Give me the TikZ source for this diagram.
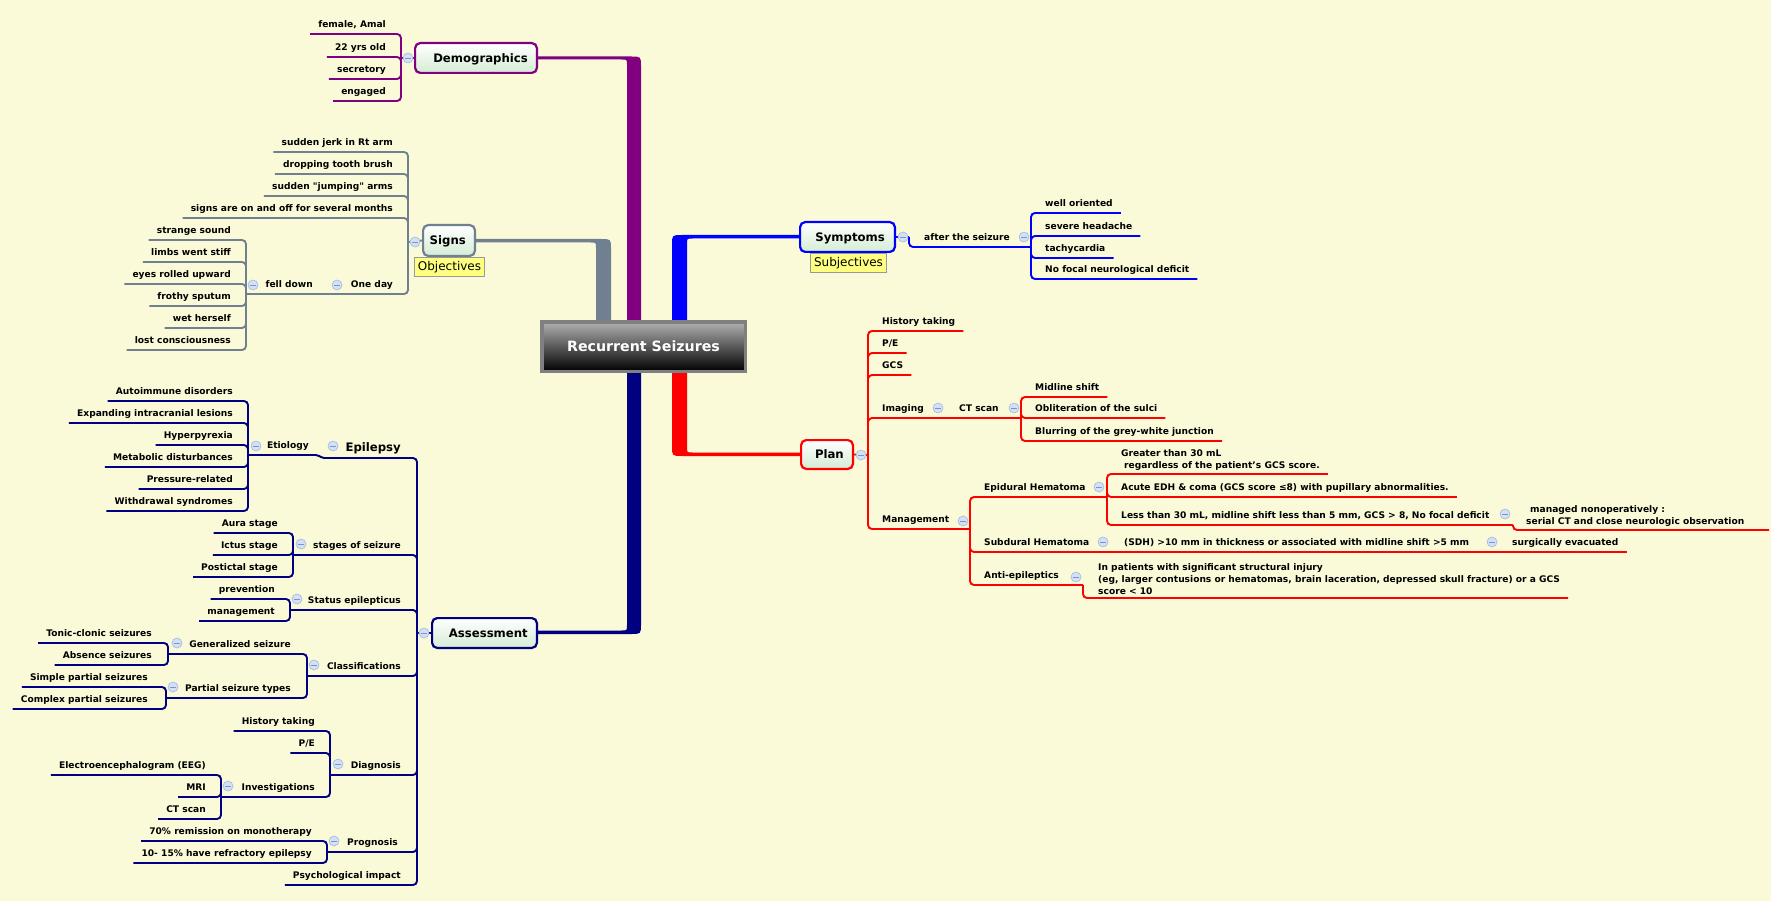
\documentclass[tikz,border=0pt]{standalone}
\usepackage{fontspec}
\newfontfamily\djv{DejaVu Sans}
\definecolor{bg}{RGB}{250,250,216}
\definecolor{cPur}{RGB}{128,0,128}
\definecolor{cGry}{RGB}{112,128,144}
\definecolor{cBlu}{RGB}{0,0,255}
\definecolor{cRed}{RGB}{255,0,0}
\definecolor{cNav}{RGB}{0,0,128}
\definecolor{colF}{RGB}{212,225,245}
\definecolor{colB}{RGB}{160,184,228}
\definecolor{colD}{RGB}{120,150,205}
\definecolor{tGreen}{RGB}{212,236,212}
\definecolor{noteY}{RGB}{255,255,128}
\definecolor{rootTop}{RGB}{178,178,178}
\begin{document}
\begin{tikzpicture}[x=1pt,y=-1pt,
  lf/.style={font=\djv\bfseries\fontsize{9.1}{11.5}\selectfont, inner xsep=8pt, inner ysep=3.5pt, text height=7pt, text depth=2.5pt},
  lfm/.style={font=\djv\bfseries\fontsize{9.1}{12}\selectfont, inner xsep=8pt, inner ysep=3.5pt, align=left},
  L/.style={lf, anchor=south east},
  R/.style={lf, anchor=south west},
  LB/.style={font=\djv\bfseries\fontsize{11.7}{13}\selectfont, inner xsep=8pt, inner ysep=3.5pt, text height=9pt, text depth=3pt, anchor=south east},
  ln/.style={line width=1.9pt, rounded corners=4pt},
  topic/.style={draw=#1, line width=2.2pt, rounded corners=5pt, top color=white, bottom color=tGreen, inner sep=0pt},
  toptxt/.style={font=\djv\bfseries\fontsize{11.7}{13}\selectfont, inner sep=0pt, anchor=base east},
  rootbox/.style={draw=gray, line width=3.5pt, top color=rootTop, bottom color=black, text=white, font=\djv\bfseries\fontsize{14.2}{16}\selectfont, minimum width=203.5pt, minimum height=49.5pt, inner sep=0pt},
  col/.style={circle, draw=colB, fill=colF, line width=0.6pt, minimum size=10pt, inner sep=0pt, path picture={\draw[colD, line width=0.9pt] ([xshift=-2.6pt]path picture bounding box.center) -- ([xshift=2.6pt]path picture bounding box.center);}},
  note/.style={draw=gray!80, fill=noteY, line width=0.8pt, font=\djv\fontsize{12}{14}\selectfont, inner sep=0pt, text height=9pt, text depth=2.5pt, minimum height=19pt},
]
\fill[bg] (0,0) rectangle (1771,901);
\useasboundingbox (0,0) rectangle (1771,901);

% ---------- thick main branches ----------
\fill[cPur] (538,56.5) -- (631,56.5) .. controls (641,56.5) .. (641,66.5) -- (641,325) -- (627,325) -- (627,65) .. controls (627,59.5) .. (621.5,59.5) -- (538,59.5) -- cycle;
\fill[cGry] (476,239) -- (601,239) .. controls (611,239) .. (611,249) -- (611,325) -- (596,325) -- (596,248) .. controls (596,242.5) .. (590.5,242.5) -- (476,242.5) -- cycle;
\fill[cBlu] (800,235) -- (682,235) .. controls (672,235) .. (672,245) -- (672,325) -- (687,325) -- (687,244) .. controls (687,238.5) .. (692.5,238.5) -- (800,238.5) -- cycle;
\fill[cRed] (800,456) -- (682,456) .. controls (672,456) .. (672,446) -- (672,368) -- (687,368) -- (687,447) .. controls (687,452.5) .. (692.5,452.5) -- (800,452.5) -- cycle;
\fill[cNav] (538,634) -- (631,634) .. controls (641,634) .. (641,624) -- (641,368) -- (627,368) -- (627,625) .. controls (627,630.5) .. (621.5,630.5) -- (538,630.5) -- cycle;

% ---------- root ----------
\node[rootbox] (root) at (643.5,346.5) {Recurrent Seizures};

% ---------- main topics ----------
\node[topic=cPur, minimum width=121.8pt, minimum height=29.8pt] (demo) at (476,58) {};
\node[toptxt] (demoT) at ([xshift=-10pt,yshift=-4.2pt]demo.east) {Demographics};
\node[topic=cGry, minimum width=51.8pt, minimum height=30.8pt] (signs) at (449,240.5) {};
\node[toptxt] (signsT) at ([xshift=-10pt,yshift=-4.2pt]signs.east) {Signs};
\node[note, minimum width=70pt] (obj) at (449.5,267) {Objectives};
\node[topic=cBlu, minimum width=94.8pt, minimum height=29.8pt] (symp) at (847.5,237) {};
\node[toptxt] (sympT) at ([xshift=-11pt,yshift=-4.2pt]symp.east) {Symptoms};
\node[note, minimum width=76pt] (subj) at (848.5,263) {Subjectives};
\node[topic=cRed, minimum width=51.8pt, minimum height=28.8pt] (plan) at (827,454.5) {};
\node[toptxt] (planT) at ([xshift=-10pt,yshift=-4.2pt]plan.east) {Plan};
\node[topic=cNav, minimum width=104.8pt, minimum height=29.8pt] (asm) at (484.5,633) {};
\node[toptxt] (asmT) at ([xshift=-10pt,yshift=-4.2pt]asm.east) {Assessment};

% ---------- junction coordinates ----------
\coordinate (dJ) at (401,58);
\coordinate (sJ) at (408,242);
\coordinate (odJ) at (330,294);
\coordinate (fdJ) at (246,294);
\coordinate (syJ) at (909,237);
\coordinate (aftJ) at (1031,247);
\coordinate (pJ) at (868,455);
\coordinate (imJ) at (945,418);
\coordinate (ctJ) at (1021,418);
\coordinate (mgJ) at (970,529);
\coordinate (epdJ) at (1107,497);
\coordinate (ltJ) at (1513,525);
\coordinate (mnE) at (1769,530);
\coordinate (sdJ) at (1110,552);
\coordinate (sdhJ) at (1500,552);
\coordinate (aeJ) at (1083,585);
\coordinate (aJ) at (417,633);
\coordinate (epJ) at (325,458);
\coordinate (etJ) at (248,455);
\coordinate (stJ) at (293,555);
\coordinate (seJ) at (290,610);
\coordinate (clJ) at (307,676);
\coordinate (gsJ) at (168,654);
\coordinate (psJ) at (166,698);
\coordinate (dgJ) at (330,775);
\coordinate (invJ) at (221,797);
\coordinate (prJ) at (327,852);

% ---------- Demographics ----------
\node[L] (d1) at (394,34) {female, Amal};
\node[L] (d2) at (394,57) {22 yrs old};
\node[L] (d3) at (394,79) {secretory};
\node[L] (d4) at (394,101) {engaged};
\draw[ln,cPur] (demo.west) -- (dJ);
\foreach \n in {d1,d2,d3,d4} \draw[ln,cPur] (dJ) |- (\n.south west);

% ---------- Signs ----------
\node[L] (s1) at (401,152) {sudden jerk in Rt arm};
\node[L] (s2) at (401,174) {dropping tooth brush};
\node[L] (s3) at (401,196) {sudden "jumping" arms};
\node[L] (s4) at (401,218) {signs are on and off for several months};
\node[L] (od) at (401,294) {One day};
\node[L] (fd) at (321,294) {fell down};
\node[L] (f1) at (239,240) {strange sound};
\node[L] (f2) at (239,262) {limbs went stiff};
\node[L] (f3) at (239,284) {eyes rolled upward};
\node[L] (f4) at (239,306) {frothy sputum};
\node[L] (f5) at (239,328) {wet herself};
\node[L] (f6) at (239,350) {lost consciousness};
\draw[ln,cGry] (signs.west) -- (sJ);
\foreach \n in {s1,s2,s3,s4} \draw[ln,cGry] (sJ) |- (\n.south west);
\draw[ln,cGry] (sJ) |- (odJ);
\draw[ln,cGry] (odJ) -- (fdJ);
\foreach \n in {f1,f2,f3,f4,f5,f6} \draw[ln,cGry] (fdJ) |- (\n.south west);

% ---------- Symptoms ----------
\node[R] (aft) at (916,247) {after the seizure};
\node[R] (y1) at (1037,213) {well oriented};
\node[R] (y2) at (1037,236) {severe headache};
\node[R] (y3) at (1037,258) {tachycardia};
\node[R] (y4) at (1037,279) {No focal neurological deficit};
\draw[ln,cBlu] (symp.east) -- (syJ);
\draw[ln,cBlu] (syJ) |- (aftJ);
\foreach \n in {y1,y2,y3,y4} \draw[ln,cBlu] (aftJ) |- (\n.south east);

% ---------- Plan ----------
\node[R] (p1) at (874,331) {History taking};
\node[R] (p2) at (874,353) {P/E};
\node[R] (p3) at (874,375) {GCS};
\node[R] (im) at (874,418) {Imaging};
\node[R] (ct) at (951,418) {CT scan};
\node[R] (c1) at (1027,397) {Midline shift};
\node[R] (c2) at (1027,418) {Obliteration of the sulci};
\node[R] (c3) at (1027,441) {Blurring of the grey-white junction};
\node[R] (mg) at (874,529) {Management};
\node[R] (epd) at (976,497) {Epidural Hematoma};
\node[lfm, anchor=south west] (e1) at (1113,474) {Greater than 30 mL\\\hspace*{3pt}regardless of the patient’s GCS score.};
\node[R] (e2) at (1113,497) {Acute EDH \& coma (GCS score ≤8) with pupillary abnormalities.};
\node[R] (e3) at (1113,525) {Less than 30 mL, midline shift less than 5 mm, GCS > 8, No focal deficit};
\node[lfm, anchor=south west] (mn) at (1518,530) {\hspace*{4pt}managed nonoperatively :\\serial CT and close neurologic observation};
\node[R] (sd) at (976,552) {Subdural Hematoma};
\node[R] (sdh) at (1116,552) {(SDH) >10 mm in thickness or associated with midline shift >5 mm};
\node[R] (surg) at (1504,552) {surgically evacuated};
\node[R] (ae) at (976,585) {Anti-epileptics};
\node[lfm, anchor=south west] (inp) at (1090,598) {In patients with significant structural injury\\(eg, larger contusions or hematomas, brain laceration, depressed skull fracture) or a GCS\\score < 10};
\draw[ln,cRed] (plan.east) -- (pJ);
\foreach \n in {p1,p2,p3} \draw[ln,cRed] (pJ) |- (\n.south east);
\draw[ln,cRed] (pJ) |- (imJ);
\draw[ln,cRed] (imJ) -- (ctJ);
\foreach \n in {c1,c2,c3} \draw[ln,cRed] (ctJ) |- (\n.south east);
\draw[ln,cRed] (pJ) |- (mgJ);
\draw[ln,cRed] (mgJ) |- (epdJ);
\foreach \n in {e1,e2} \draw[ln,cRed] (epdJ) |- (\n.south east);
\draw[ln,cRed] (epdJ) |- (ltJ);
\draw[ln,cRed] (ltJ) |- (mnE);
\draw[ln,cRed] (mgJ) |- (sdJ);
\draw[ln,cRed] (sdJ) -- (sdhJ);
\draw[ln,cRed] (sdhJ) -- (surg.south east);
\draw[ln,cRed] (mgJ) |- (aeJ);
\draw[ln,cRed] (aeJ) |- (inp.south east);

% ---------- Assessment ----------
\node[LB] (epi) at (409,458) {Epilepsy};
\node[L] (et) at (317,455) {Etiology};
\node[L] (t1) at (241,401) {Autoimmune disorders};
\node[L] (t2) at (241,423) {Expanding intracranial lesions};
\node[L] (t3) at (241,445) {Hyperpyrexia};
\node[L] (t4) at (241,467) {Metabolic disturbances};
\node[L] (t5) at (241,489) {Pressure-related};
\node[L] (t6) at (241,511) {Withdrawal syndromes};
\node[L] (st) at (409,555) {stages of seizure};
\node[L] (st1) at (286,533) {Aura stage};
\node[L] (st2) at (286,555) {Ictus stage};
\node[L] (st3) at (286,577) {Postictal stage};
\node[L] (se) at (409,610) {Status epilepticus};
\node[L] (se1) at (283,599) {prevention};
\node[L] (se2) at (283,621) {management};
\node[L] (cl) at (409,676) {Classifications};
\node[L] (gs) at (299,654) {Generalized seizure};
\node[L] (g1) at (160,643) {Tonic-clonic seizures};
\node[L] (g2) at (160,665) {Absence seizures};
\node[L] (ps) at (299,698) {Partial seizure types};
\node[L] (q1) at (156,687) {Simple partial seizures};
\node[L] (q2) at (156,709) {Complex partial seizures};
\node[L] (dg) at (409,775) {Diagnosis};
\node[L] (dg1) at (323,731) {History taking};
\node[L] (dg2) at (323,753) {P/E};
\node[L] (inv) at (323,797) {Investigations};
\node[L] (i1) at (214,775) {Electroencephalogram (EEG)};
\node[L] (i2) at (214,797) {MRI};
\node[L] (i3) at (214,819) {CT scan};
\node[L] (pr) at (406,852) {Prognosis};
\node[L] (r1) at (320,841) {70\% remission on monotherapy};
\node[L] (r2) at (320,863) {10- 15\% have refractory epilepsy};
\node[L] (psy) at (409,885) {Psychological impact};
\draw[ln,cNav] (asm.west) -- (aJ);
\draw[ln,cNav] (aJ) |- (epJ);
\draw[ln,cNav,rounded corners=2pt] (epJ) -- (322,458) -- (318,455) -- (etJ);
\foreach \n in {t1,t2,t3,t4,t5,t6} \draw[ln,cNav] (etJ) |- (\n.south west);
\draw[ln,cNav] (aJ) |- (stJ);
\foreach \n in {st1,st2,st3} \draw[ln,cNav] (stJ) |- (\n.south west);
\draw[ln,cNav] (aJ) |- (seJ);
\foreach \n in {se1,se2} \draw[ln,cNav] (seJ) |- (\n.south west);
\draw[ln,cNav] (aJ) |- (clJ);
\draw[ln,cNav] (clJ) |- (gsJ);
\foreach \n in {g1,g2} \draw[ln,cNav] (gsJ) |- (\n.south west);
\draw[ln,cNav] (clJ) |- (psJ);
\foreach \n in {q1,q2} \draw[ln,cNav] (psJ) |- (\n.south west);
\draw[ln,cNav] (aJ) |- (dgJ);
\foreach \n in {dg1,dg2} \draw[ln,cNav] (dgJ) |- (\n.south west);
\draw[ln,cNav] (dgJ) |- (invJ);
\foreach \n in {i1,i2,i3} \draw[ln,cNav] (invJ) |- (\n.south west);
\draw[ln,cNav] (aJ) |- (prJ);
\foreach \n in {r1,r2} \draw[ln,cNav] (prJ) |- (\n.south west);
\draw[ln,cNav] (aJ) |- (psy.south west);

% ---------- collapse markers ----------
\node[col] (dC) at (408,58) {};
\node[col] (sC) at (415,242) {};
\node[col] (odC) at (337,285) {};
\node[col] (fdC) at (253,285) {};
\node[col] (syC) at (903,237) {};
\node[col] (aftC) at (1024,237) {};
\node[col] (pC) at (861,455) {};
\node[col] (imC) at (938,408) {};
\node[col] (ctC) at (1014,408) {};
\node[col] (mgC) at (963,521) {};
\node[col] (epdC) at (1099,487) {};
\node[col] (ltC) at (1505,514) {};
\node[col] (sdC) at (1103,542) {};
\node[col] (sdhC) at (1492,542) {};
\node[col] (aeC) at (1076,577) {};
\node[col] (aC) at (424,633) {};
\node[col] (epC) at (333,446) {};
\node[col] (etC) at (256,446) {};
\node[col] (stC) at (301,544) {};
\node[col] (seC) at (297,599) {};
\node[col] (clC) at (314,665) {};
\node[col] (gsC) at (177,643) {};
\node[col] (psC) at (173,687) {};
\node[col] (dgC) at (338,764) {};
\node[col] (invC) at (228,786) {};
\node[col] (prC) at (334,841) {};
\end{tikzpicture}
\end{document}
